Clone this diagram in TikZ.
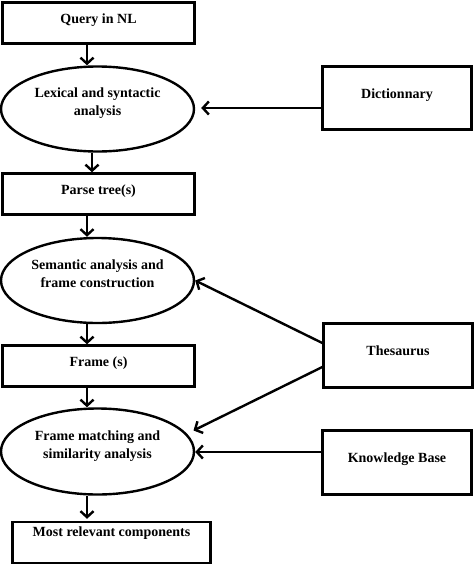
\documentclass[tikz,border=0pt]{standalone}
\usepackage{fontspec}
\setmainfont{Liberation Serif}
\usetikzlibrary{shapes.geometric,arrows.meta}
\begin{document}
\begin{tikzpicture}[x=1pt,y=-1pt,
  every node/.style={font=\bfseries\fontsize{14}{18}\selectfont, line width=2.4pt, inner sep=0pt},
  boxnode/.style={draw, rectangle, text height=10pt, text depth=10pt},
  ellnode/.style={draw, ellipse, minimum width=193pt, minimum height=85pt, text height=10pt, text depth=32.7pt},
  arr/.style={line width=2.4pt, -{Straight Barb[length=6pt,width=13pt]}}]
\useasboundingbox (0,0) rectangle (474,565);
\coordinate (vx) at (87,0);
\coordinate (vy) at (92,0);
\node[boxnode, minimum width=192pt, minimum height=41pt] (q) at (98.5,23) {Query in NL};
\node[ellnode] (e1) at (97.5,109) {\begin{tabular}[t]{@{}c@{}}Lexical and syntactic\\analysis\end{tabular}};
\node[boxnode, minimum width=192pt, minimum height=41pt] (p) at (98.5,194) {Parse tree(s)};
\node[ellnode] (e2) at (97.5,280.5) {\begin{tabular}[t]{@{}c@{}}Semantic analysis and\\frame construction\end{tabular}};
\node[boxnode, minimum width=192pt, minimum height=41pt] (f) at (98.5,366) {Frame (s)};
\node[ellnode, minimum height=86pt] (e3) at (97.5,451.5) {\begin{tabular}[t]{@{}c@{}}Frame matching and\\similarity analysis\end{tabular}};
\node[boxnode, minimum width=198pt, minimum height=41pt, text depth=22.7pt] (m) at (111.5,542.5) {Most relevant components};
\node[boxnode, minimum width=149pt, minimum height=63pt] (d) at (397,98) {Dictionnary};
\node[boxnode, minimum width=149pt, minimum height=64pt] (t) at (398,355.5) {Thesaurus};
\node[boxnode, minimum width=149pt, minimum height=64pt] (k) at (397,462.5) {Knowledge Base};
\coordinate (dw) at ([yshift=-10pt]d.west);
\coordinate (kw) at ([yshift=10.5pt]k.west);
\draw[arr] (q.south -| vx) -- (e1.north -| vx);
\draw[arr] (e1.south -| vy) -- (p.north -| vy);
\draw[arr] (p.south -| vx) -- (e2.north -| vx);
\draw[arr] (e2.south -| vx) -- (f.north -| vx);
\draw[arr] (f.south -| vx) -- (e3.north -| vx);
\draw[arr] (e3.south -| vx) -- ([yshift=2pt]m.north -| vx);
\draw[arr, shorten >=6pt] (dw) -- (dw -| e1.east);
\draw[arr] ([yshift=12.5pt]t.west) -- (e2.east);
\draw[arr] ([yshift=-11.5pt]t.west) -- ([shift={(96,-21)}]e3.center);
\draw[arr] (kw) -- (kw -| e3.east);
\end{tikzpicture}
\end{document}
